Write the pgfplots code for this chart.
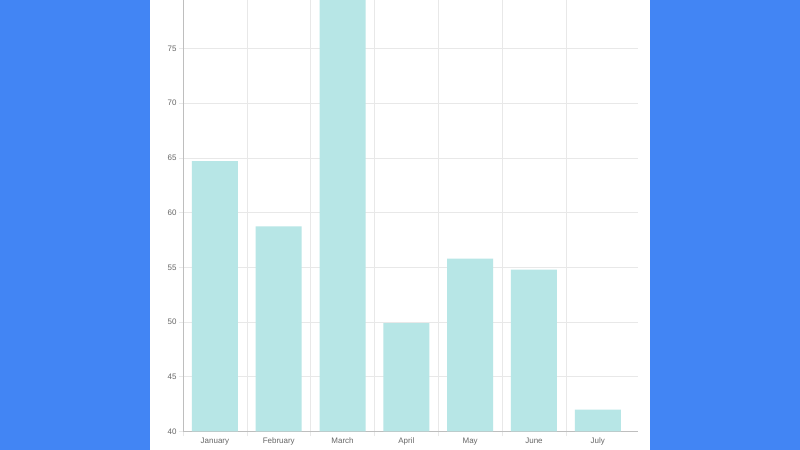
\documentclass[border=0pt]{standalone}
\usepackage{pgfplots}
\pgfplotsset{compat=1.18}
\usepackage{fontspec}
\setmainfont{Liberation Sans}
\definecolor{bgblue}{RGB}{66,133,244}
\definecolor{barfill}{RGB}{183,230,230}
\definecolor{gridc}{RGB}{232,232,232}
\definecolor{axisc}{RGB}{190,190,190}
\definecolor{labelc}{RGB}{102,102,102}
\begin{document}
\begin{tikzpicture}[x=1bp,y=1bp]
\useasboundingbox (0,0) rectangle (800,450);
\fill[bgblue] (0,0) rectangle (800,450);
\fill[white] (150,0) rectangle (650,450);
\begin{axis}[
  at={(183bp,18.5bp)}, anchor=south west,
  scale only axis,
  width=455bp, height=431.5bp,
  xmin=-0.5, xmax=6.63,
  ymin=40, ymax=79.43,
  ytick={40,45,...,75},
  xtick={0,...,6},
  xticklabels={January,February,March,April,May,June,July},
  minor xtick={-0.5,0.5,...,5.5},
  xminorgrids, ymajorgrids,
  grid style={gridc, line width=0.6bp},
  minor grid style={gridc, line width=0.6bp},
  axis x line*=bottom, axis y line*=left,
  axis line style={axisc, line width=0.6bp, -},
  major x tick style={draw=none},
  minor x tick style={gridc, line width=0.6bp},
  major y tick style={gridc, line width=0.6bp},
  tick align=outside,
  major tick length=4bp, minor tick length=5bp,
  ticklabel style={font=\fontsize{8}{9.5}\selectfont, text=labelc},
  /pgf/number format/assume math mode=true,
  xticklabel style={yshift=1bp},
  yticklabel style={xshift=1bp},
  clip=true,
]
\addplot[ybar, bar width=46bp, fill=barfill, draw=none, bar shift=0pt]
  coordinates {(0,64.7) (1,58.75) (2,82) (3,49.9) (4,55.8) (5,54.8) (6,42.0)};
\end{axis}
\end{tikzpicture}
\end{document}
